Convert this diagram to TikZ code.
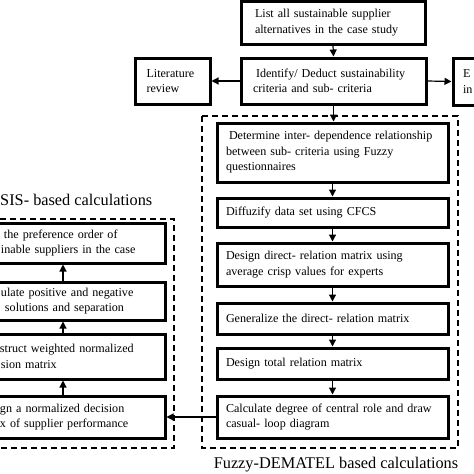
\documentclass[tikz,border=0pt]{standalone}
\usepackage{fontspec}
\setmainfont{Liberation Serif}
\usetikzlibrary{arrows.meta}
\newcommand{\bodyfnt}{\fontsize{12.1}{15.5}\selectfont}
\newcommand{\titlefnt}{\fontsize{16.3}{19}\selectfont}
\tikzset{
  stepbox/.style={draw, line width=3pt, rectangle, inner sep=0pt, font=\bodyfnt, align=left},
  arr/.style={line width=1.2pt, -{Triangle[length=7pt,width=7pt]}},
  dashbox/.style={line width=1.5pt, dash pattern=on 6pt off 4pt},
  ttl/.style={font=\titlefnt, inner sep=0pt}
}
\begin{document}
\begin{tikzpicture}[x=1pt,y=-1pt]
\useasboundingbox (0,0) rectangle (474,474);
\clip (0,0) rectangle (474,474);
\fill[white] (0,0) rectangle (474,474);

% top part
\node[stepbox, minimum width=184pt, minimum height=42.5pt, text width=156pt] (top) at (333,22.75)
  {List all sustainable supplier\\alternatives in the case study};
\node[stepbox, minimum width=185pt, minimum height=46pt, text width=161pt] (ident) at (333.5,81)
  {\hspace*{3pt}Identify/ Deduct sustainability\\criteria and sub- criteria};
\node[stepbox, minimum width=75pt, minimum height=46pt, text width=52pt] (lit) at (172.5,81)
  {Literature\\review};
\node[stepbox, minimum width=67pt, minimum height=47pt, text width=47pt] (exp) at (486.5,81.5)
  {E\\in};

\draw[arr] (top.south) -- (ident.north);
\draw[arr] (ident.west) -- (lit.east);
\draw[arr] (ident.east) -- (exp.west);

% DEMATEL
\draw[dashbox] (202,116) rectangle (458,448);
\node[stepbox, minimum width=231pt, minimum height=59pt, text width=213pt] (det) at (332.5,152.5)
  {\hspace*{3pt}Determine inter- dependence relationship\\between sub- criteria using Fuzzy\\questionnaires};
\node[stepbox, minimum width=231pt, minimum height=29pt, text width=213pt] (dif) at (332.5,212.5)
  {Diffuzify data set using CFCS};
\node[stepbox, minimum width=231pt, minimum height=43pt, text width=213pt] (ddr) at (332.5,264.5)
  {Design direct- relation matrix using\\average crisp values for experts};
\node[stepbox, minimum width=231pt, minimum height=31pt, text width=213pt] (gen) at (332.5,318.5)
  {Generalize the direct- relation matrix};
\node[stepbox, minimum width=231pt, minimum height=31pt, text width=213pt] (tot) at (332.5,363.5)
  {Design total relation matrix};
\node[stepbox, minimum width=231pt, minimum height=42pt, text width=213pt] (calc) at (332.5,417)
  {Calculate degree of central role and draw\\casual- loop diagram};

\draw[arr] (ident.south) -- (ident.south |- det.north);
\draw[arr] (det) -- (dif);
\draw[arr] (dif) -- (ddr);
\draw[arr] (ddr) -- (gen);
\draw[arr] (gen) -- (tot);
\draw[arr] (tot) -- (calc);

\node[ttl] (dlab) at (336,465) {Fuzzy-DEMATEL based calculations};

% TOPSIS
\draw[dashbox] (-60,219) -- (174,219) -- (174,448) -- (-60,448);
\node[ttl, anchor=west] (tlab) at (0,200) {SIS- based calculations};
\node[stepbox, minimum width=204pt, minimum height=40pt, text width=200pt] (p1) at (63,243)
  {\hspace*{41pt}the preference order of\\\hspace*{38pt}inable suppliers in the case};
\node[stepbox, minimum width=204pt, minimum height=38pt, text width=200pt] (p2) at (63,301)
  {\hspace*{38pt}ulate positive and negative\\\hspace*{42pt}solutions and separation};
\node[stepbox, minimum width=204pt, minimum height=45pt, text width=200pt] (p3) at (63,356.5)
  {\hspace*{37pt}struct weighted normalized\\\hspace*{38pt}sion matrix};
\node[stepbox, minimum width=204pt, minimum height=42pt, text width=200pt] (p4) at (63,417)
  {\hspace*{37pt}gn a normalized decision\\\hspace*{37pt}x of supplier performance};

\draw[arr] (p4) -- (p3);
\draw[arr] (p3) -- (p2);
\draw[arr] (p2) -- (p1);
\draw[arr] (calc.west) -- (p4.east);
\end{tikzpicture}
\end{document}
